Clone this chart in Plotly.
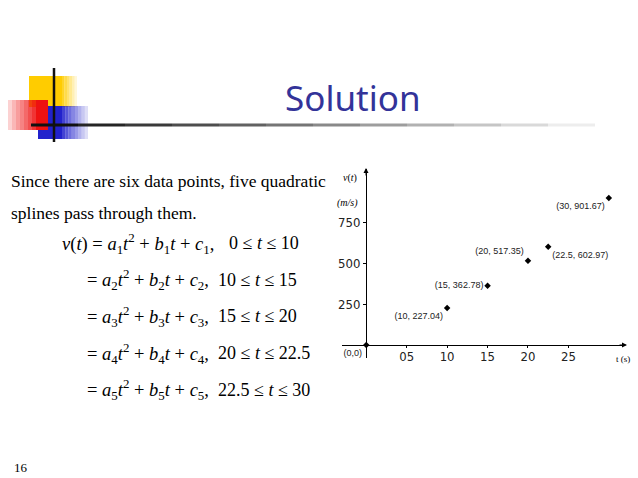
import plotly.graph_objects as go

W, H = 638, 478

# data
t_vals = [0, 10, 15, 20, 22.5, 30]
v_vals = [0, 227.04, 362.78, 517.35, 602.97, 901.67]
point_labels = ["(0,0)", "(10, 227.04)", "(15, 362.78)", "(20, 517.35)",
                "(22.5, 602.97)", "(30, 901.67)"]
x_ticks = [5, 10, 15, 20, 25]
x_tick_text = ["05", "10", "15", "20", "25"]
y_ticks = [250, 500, 750]

intro = ["Since there are six data points, five quadratic",
         "splines pass through them."]
pieces = ["1", "2", "3", "4", "5"]
intervals = ["0 ≤ <i>t</i> ≤ 10", "10 ≤ <i>t</i> ≤ 15", "15 ≤ <i>t</i> ≤ 20",
             "20 ≤ <i>t</i> ≤ 22.5", "22.5 ≤ <i>t</i> ≤ 30"]


def px(x):
    return x / W


def py(y):
    return 1 - y / H


fig = go.Figure()

fig.add_trace(go.Scatter(
    x=t_vals, y=v_vals, mode="markers+text",
    text=point_labels,
    textposition=["bottom left", "bottom left", "middle left", "top left",
                  "bottom right", "bottom left"],
    textfont=dict(family="Liberation Sans, Arial", size=9, color="#222"),
    marker=dict(symbol="diamond", size=5, color="black"),
    cliponaxis=False, showlegend=False,
))

shapes = []
# logo: yellow, blue, red squares with faded edges
shapes.append(dict(type="rect", xref="paper", yref="paper", x0=px(29), x1=px(62),
                   y0=py(107), y1=py(76), fillcolor="#FFCC00", line_width=0, layer="below"))
for i in range(6):
    shapes.append(dict(type="rect", xref="paper", yref="paper",
                       x0=px(62 + i * 2.5), x1=px(64.5 + i * 2.5), y0=py(107), y1=py(76),
                       fillcolor="#FFCC00", opacity=0.85 - i * 0.14, line_width=0, layer="below"))
shapes.append(dict(type="rect", xref="paper", yref="paper", x0=px(38), x1=px(62),
                   y0=py(139), y1=py(106), fillcolor="#2222CC", line_width=0, layer="below"))
for i in range(8):
    shapes.append(dict(type="rect", xref="paper", yref="paper",
                       x0=px(62 + i * 3.25), x1=px(65.25 + i * 3.25), y0=py(139), y1=py(106),
                       fillcolor="#2222CC", opacity=0.85 - i * 0.1, line_width=0, layer="below"))
shapes.append(dict(type="rect", xref="paper", yref="paper", x0=px(36), x1=px(48),
                   y0=py(130), y1=py(100), fillcolor="#EE1111", line_width=0, layer="below"))
for i in range(7):
    shapes.append(dict(type="rect", xref="paper", yref="paper",
                       x0=px(36 - (i + 1) * 4), x1=px(36 - i * 4), y0=py(130), y1=py(100),
                       fillcolor="#EE1111", opacity=0.85 - i * 0.11, line_width=0, layer="below"))
shapes.append(dict(type="line", xref="paper", yref="paper", x0=px(54), x1=px(54),
                   y0=py(68), y1=py(142), line=dict(color="#111", width=2.5)))
# title rule fading to the right
for i in range(12):
    g = int(17 + i * 20)
    shapes.append(dict(type="line", xref="paper", yref="paper",
                       x0=px(31 + i * 47), x1=px(31 + (i + 1) * 47), y0=py(125), y1=py(125),
                       line=dict(color=f"rgb({g},{g},{g})", width=3)))

ann = []


def note(text, x, y, size, family, xanchor="left", color="black"):
    ann.append(dict(text=text, x=px(x), y=py(y), xref="paper", yref="paper",
                    xanchor=xanchor, yanchor="middle", showarrow=False,
                    font=dict(family=family, size=size, color=color)))


serif = "Liberation Serif, Times New Roman, serif"
note("Solution", 353, 97, 35, "Tahoma, Noto Sans, sans-serif", "center", "#333399")
note("16", 12, 467, 13, serif)
for i, line in enumerate(intro):
    note(line, 9, 181 + i * 32, 17.5, serif)

sp = "\u00a0"
for i, k in enumerate(pieces):
    lead = "<i>v</i>(<i>t</i>)" + sp + "=" if i == 0 else "="
    expr = (lead + sp + f"<i>a</i><sub>{k}</sub><i>t</i><sup>2</sup>" + sp + "+" + sp
            + f"<i>b</i><sub>{k}</sub><i>t</i>" + sp + "+" + sp + f"<i>c</i><sub>{k}</sub>,")
    y = 243 + i * 36.7
    note(expr, 60 if i == 0 else 85, y, 18.5, serif)
    note(intervals[i], 227 if i == 0 else 216, y, 18, serif)

# axis captions and arrow heads
note("<i>v</i>(<i>t</i>)", 341, 178, 10, serif)
note("<i>(m/s)</i>", 335, 203, 10, serif)
note("t" + sp + "(s)", 614, 359, 9, serif)
ann.append(dict(text="", x=px(627), y=py(345), xref="paper", yref="paper", ax=-9, ay=0,
                showarrow=True, arrowhead=2, arrowsize=1, arrowwidth=1, arrowcolor="black"))
ann.append(dict(text="", x=px(366), y=py(168), xref="paper", yref="paper", ax=0, ay=9,
                showarrow=True, arrowhead=2, arrowsize=1, arrowwidth=1, arrowcolor="black"))

axis_font = dict(family="DejaVu Sans Condensed, Liberation Sans Narrow, Arial Narrow",
                 size=13, color="#222")

fig.update_layout(
    width=W, height=H,
    margin=dict(l=0, r=0, t=0, b=0),
    paper_bgcolor="white", plot_bgcolor="rgba(0,0,0,0)",
    shapes=shapes, annotations=ann,
    xaxis=dict(domain=[px(342), px(625)], range=[-3, 32], anchor="free",
               position=py(345), showline=True, linecolor="black", linewidth=1,
               tickvals=x_ticks, ticktext=x_tick_text, ticks="outside", ticklen=2,
               tickcolor="black", tickfont=axis_font, ticklabelstandoff=-3,
               showgrid=False, zeroline=False, fixedrange=True),
    yaxis=dict(domain=[py(358), py(169)], range=[-80, 1080], anchor="free",
               position=px(366), showline=True, linecolor="black", linewidth=1,
               tickvals=y_ticks, ticks="outside", ticklen=3, tickcolor="black",
               tickfont=axis_font, showgrid=False, zeroline=False, fixedrange=True),
)

fig.write_html("out.html", config={"displayModeBar": False},
               post_script="document.body.style.margin='0';")
